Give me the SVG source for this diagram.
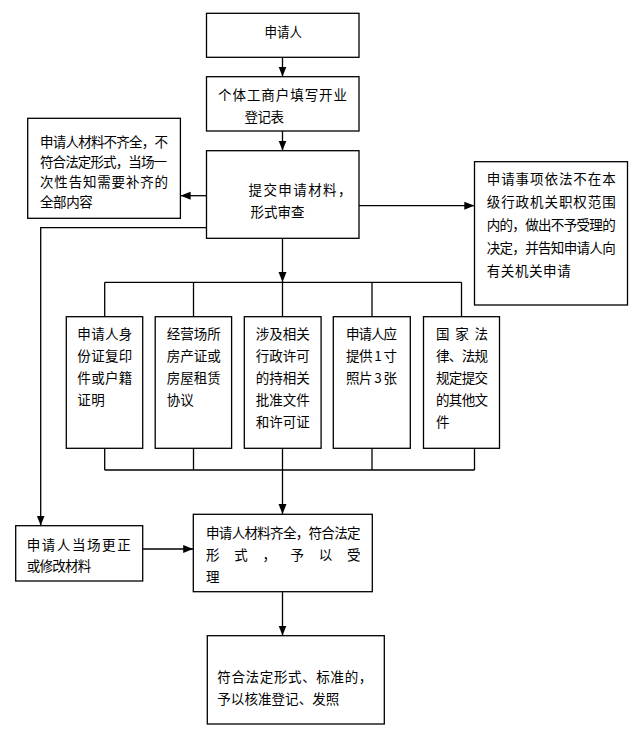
<svg xmlns="http://www.w3.org/2000/svg" width="639" height="730" viewBox="0 0 639 730">
<style>
.box{fill:#fff;stroke:#000;stroke-width:1.3}
.ln{fill:none;stroke:#000;stroke-width:1.3}
text{font-family:"Noto Sans CJK SC","Noto Sans CJK JP",sans-serif;font-size:13.5px;fill:#000}
</style>
<defs>
<marker id="ah" markerUnits="userSpaceOnUse" markerWidth="10" markerHeight="10" viewBox="0 0 10 10" refX="10" refY="5" orient="auto">
<path d="M0,1 L10,5 L0,9 Z" fill="#000"/>
</marker>
</defs>
<rect width="639" height="730" fill="#fff"/>
<g id="connectors">
<line class="ln" x1="282.5" y1="57.3" x2="282.5" y2="76.5" marker-end="url(#ah)"/>
<line class="ln" x1="282.5" y1="131" x2="282.5" y2="150.5" marker-end="url(#ah)"/>
<line class="ln" x1="206.5" y1="195.7" x2="180.6" y2="195.7" marker-end="url(#ah)"/>
<line class="ln" x1="359" y1="205.7" x2="474.3" y2="205.7" marker-end="url(#ah)"/>
<polyline class="ln" points="206.5,227.7 40.7,227.7 40.7,525.5" marker-end="url(#ah)"/>
<line class="ln" x1="282.5" y1="238.3" x2="282.5" y2="282" marker-end="url(#ah)"/>
<line class="ln" x1="104.7" y1="282.3" x2="461.5" y2="282.3"/>
<line class="ln" x1="104.7" y1="282.3" x2="104.7" y2="316.7"/>
<line class="ln" x1="193.5" y1="282.3" x2="193.5" y2="316.7"/>
<line class="ln" x1="282.5" y1="282.3" x2="282.5" y2="316.7"/>
<line class="ln" x1="372" y1="282.3" x2="372" y2="316.7"/>
<line class="ln" x1="461.5" y1="282.3" x2="461.5" y2="316.7"/>
<line class="ln" x1="104.7" y1="448.3" x2="104.7" y2="470"/>
<line class="ln" x1="193.5" y1="448.3" x2="193.5" y2="470"/>
<line class="ln" x1="282.5" y1="448.3" x2="282.5" y2="470"/>
<line class="ln" x1="372" y1="448.3" x2="372" y2="470"/>
<line class="ln" x1="474.5" y1="448.3" x2="474.5" y2="470"/>
<line class="ln" x1="104.7" y1="470" x2="474.5" y2="470"/>
<line class="ln" x1="282.5" y1="470" x2="282.5" y2="514" marker-end="url(#ah)"/>
<line class="ln" x1="142.7" y1="549" x2="193.2" y2="549" marker-end="url(#ah)"/>
<line class="ln" x1="282.5" y1="591.7" x2="282.5" y2="635.5" marker-end="url(#ah)"/>
</g>
<g id="n1"><rect class="box" x="206.5" y="13.3" width="152.5" height="44"/>
<text x="264.5" y="36.7" textLength="37.5" lengthAdjust="spacingAndGlyphs">申请人</text></g>
<g id="n2"><rect class="box" x="206.5" y="76.7" width="152.5" height="54.3"/>
<text x="218" y="100" textLength="129" lengthAdjust="spacing">个体工商户填写开业</text>
<text x="244.4" y="121.7" textLength="39.5" lengthAdjust="spacing">登记表</text></g>
<g id="n3"><rect class="box" x="206.5" y="150.7" width="152.5" height="87.6"/>
<text x="248.5" y="195" textLength="103" lengthAdjust="spacing">提交申请材料，</text>
<text x="250.5" y="216.7" textLength="54" lengthAdjust="spacing">形式审查</text></g>
<g id="n4"><rect class="box" x="27.7" y="118.3" width="152.7" height="100"/>
<text x="40" y="146.7" textLength="128" lengthAdjust="spacing">申请人材料不齐全，不</text>
<text x="40" y="166.7" textLength="127" lengthAdjust="spacing">符合法定形式，当场一</text>
<text x="40" y="186.7" textLength="128" lengthAdjust="spacing">次性告知需要补齐的</text>
<text x="40" y="206.7" textLength="52.7" lengthAdjust="spacing">全部内容</text></g>
<g id="n5"><rect class="box" x="474.5" y="161.7" width="153" height="143.3"/>
<text x="486.7" y="183.5" textLength="129" lengthAdjust="spacing">申请事项依法不在本</text>
<text x="486.7" y="206.8" textLength="129" lengthAdjust="spacing">级行政机关职权范围</text>
<text x="486.7" y="229.5" textLength="129" lengthAdjust="spacing">内的，做出不予受理的</text>
<text x="486.7" y="252.8" textLength="129" lengthAdjust="spacing">决定，并告知申请人向</text>
<text x="486.7" y="275.5" textLength="84" lengthAdjust="spacing">有关机关申请</text></g>
<g id="n6"><rect class="box" x="66.3" y="316.7" width="76.4" height="131.6"/>
<text x="77.3" y="339" textLength="55" lengthAdjust="spacing">申请人身</text>
<text x="77.3" y="361" textLength="55" lengthAdjust="spacing">份证复印</text>
<text x="77.3" y="382.5" textLength="55" lengthAdjust="spacing">件或户籍</text>
<text x="77.3" y="404.5" textLength="27.5" lengthAdjust="spacing">证明</text></g>
<g id="n7"><rect class="box" x="155.2" y="316.7" width="76.4" height="131.6"/>
<text x="166.7" y="339" textLength="54" lengthAdjust="spacing">经营场所</text>
<text x="166.7" y="361" textLength="54" lengthAdjust="spacing">房产证或</text>
<text x="166.7" y="382.5" textLength="54" lengthAdjust="spacing">房屋租赁</text>
<text x="166.7" y="404.5" textLength="27" lengthAdjust="spacing">协议</text></g>
<g id="n8"><rect class="box" x="244.3" y="316.7" width="76.8" height="131.6"/>
<text x="255.7" y="339" textLength="54" lengthAdjust="spacing">涉及相关</text>
<text x="255.7" y="361" textLength="54" lengthAdjust="spacing">行政许可</text>
<text x="255.7" y="382.5" textLength="54" lengthAdjust="spacing">的持相关</text>
<text x="255.7" y="404.5" textLength="54" lengthAdjust="spacing">批准文件</text>
<text x="255.7" y="426.5" textLength="54" lengthAdjust="spacing">和许可证</text></g>
<g id="n9"><rect class="box" x="333.3" y="316.7" width="77" height="131.6"/>
<text x="346" y="339" textLength="51" lengthAdjust="spacing">申请人应</text>
<text x="346" y="361" textLength="51" lengthAdjust="spacing">提供 1 寸</text>
<text x="346" y="382.5" textLength="51" lengthAdjust="spacing">照片 3 张</text></g>
<g id="n10"><rect class="box" x="423.5" y="316.7" width="76" height="131.6"/>
<text x="436" y="339" textLength="52" lengthAdjust="spacing">国 家 法</text>
<text x="436" y="361" textLength="52" lengthAdjust="spacing">律、法规</text>
<text x="436" y="382.5" textLength="52" lengthAdjust="spacing">规定提交</text>
<text x="436" y="404.5" textLength="52" lengthAdjust="spacing">的其他文</text>
<text x="436" y="426.5">件</text></g>
<g id="n11"><rect class="box" x="15.7" y="525.7" width="127" height="55.3"/>
<text x="26.7" y="550" textLength="104" lengthAdjust="spacing">申请人当场更正</text>
<text x="26.7" y="571" textLength="64.5" lengthAdjust="spacing">或修改材料</text></g>
<g id="n12"><rect class="box" x="193.3" y="514.3" width="179" height="77.4"/>
<text x="206" y="538.3" textLength="154.5" lengthAdjust="spacing">申请人材料齐全，符合法定</text>
<text x="206" y="560" textLength="154.5" lengthAdjust="spacing">形式，予以受</text>
<text x="206" y="582.3">理</text></g>
<g id="n13"><rect class="box" x="207.3" y="635.7" width="177" height="88.3"/>
<text x="217.3" y="681.7" textLength="155" lengthAdjust="spacing">符合法定形式、标准的，</text>
<text x="217.3" y="704" textLength="122" lengthAdjust="spacing">予以核准登记、发照</text></g>
</svg>
